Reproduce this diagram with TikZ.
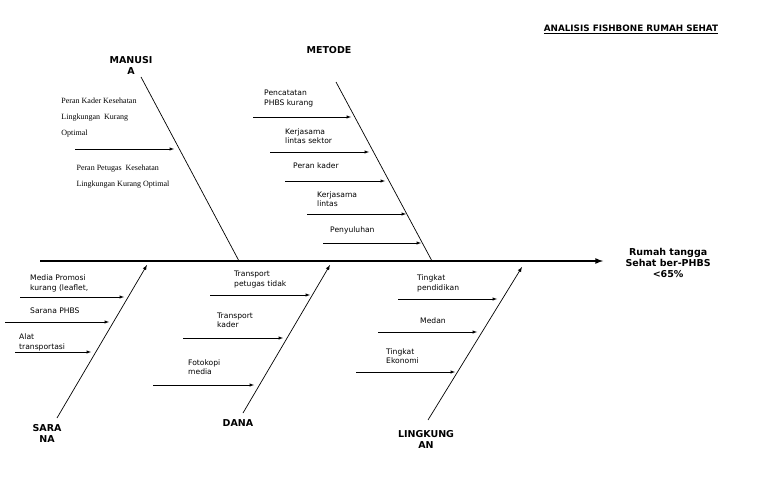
\documentclass[tikz,border=0pt]{standalone}
\usepackage{fontspec}
\setmainfont{DejaVu Sans}
\newfontfamily\tinyserif{Liberation Serif}
\usetikzlibrary{positioning}
\begin{document}
\begin{tikzpicture}[x=1pt,y=-1pt,>=latex,
  bone/.style={black,line width=0.7pt},
  sub/.style={->,black,line width=0.5pt},
  lbl/.style={font=\fontsize{7.6}{9.5}\selectfont,align=left,anchor=south west,inner sep=1pt},
  cat/.style={font=\bfseries\fontsize{9.5}{11}\selectfont,align=center}]
\useasboundingbox (0,0) rectangle (768,489);
\node[font=\bfseries\fontsize{8.8}{10}\selectfont] (title) at (631,29) {\underline{ANALISIS FISHBONE RUMAH SEHAT}};
% spine
\coordinate (tail) at (40,261);
\coordinate (head) at (603,261);
\draw[->,line width=1.6pt] (tail) -- (head);
\node[cat,anchor=west] (effect) at (622,263) {Rumah tangga\\Sehat ber-PHBS\\<65\%};
% categories
\node[cat] (manusia) at (131,65) {MANUSI\\A};
\node[cat] (metode) at (329,50) {METODE};
\node[cat] (sarana) at (47,433) {SARA\\NA};
\node[cat] (dana) at (238,423) {DANA};
\node[cat] (lingkungan) at (426,439) {LINGKUNG\\AN};
\coordinate (m0) at (141,77); \coordinate (m1) at (239,261);
\coordinate (t0) at (336,82); \coordinate (t1) at (432,261);
\coordinate (s0) at (57,418); \coordinate (s1) at (147,265);
\coordinate (d0) at (243,413); \coordinate (d1) at (330,265);
\coordinate (l0) at (428,420); \coordinate (l1) at (522,267);
\draw[bone] (m0) -- (m1);
\draw[bone] (t0) -- (t1);
\draw[bone,->] (s0) -- (s1);
\draw[bone,->] (d0) -- (d1);
\draw[bone,->] (l0) -- (l1);
% manusia
\node[font=\tinyserif\fontsize{8}{16}\selectfont,align=left] (man1) at (99,118) {Peran Kader Kesehatan\\Lingkungan\ \ Kurang\\Optimal};
\draw[sub] (75,149) -- (174,149);
\node[font=\tinyserif\fontsize{8}{16}\selectfont,align=left] (man2) at (123,177) {Peran Petugas\ \ Kesehatan\\Lingkungan Kurang Optimal};
% metode
\draw[sub] (253,117) -- (351,117);
\node[lbl] (met1) at (263,108) {Pencatatan\\PHBS kurang};
\draw[sub] (270,152) -- (369,152);
\node[lbl] (met2) at (284,145) {Kerjasama\\lintas sektor};
\draw[sub] (285,181) -- (385,181);
\node[lbl] (met3) at (292,170) {Peran kader};
\draw[sub] (307,214) -- (406,214);
\node[lbl] (met4) at (316,208) {Kerjasama\\lintas};
\draw[sub] (323,243) -- (421,243);
\node[lbl] (met5) at (329,235) {Penyuluhan};
% sarana
\draw[sub] (20,297) -- (124,297);
\node[lbl] (sar1) at (29,293) {Media Promosi\\kurang (leaflet,};
\draw[sub] (5,322) -- (109,322);
\node[lbl] (sar2) at (29,315) {Sarana PHBS};
\draw[sub] (15,352) -- (91,352);
\node[lbl] (sar3) at (18,352) {Alat\\transportasi};
% dana
\draw[sub] (210,295) -- (310,295);
\node[lbl] (dan1) at (233,289) {Transport\\petugas tidak};
\draw[sub] (183,338) -- (283,338);
\node[lbl] (dan2) at (216,329) {Transport\\kader};
\draw[sub] (153,385) -- (254,385);
\node[lbl] (dan3) at (187,376) {Fotokopi\\media};
% lingkungan
\draw[sub] (398,299) -- (497,299);
\node[lbl] (lin1) at (416,293) {Tingkat\\pendidikan};
\draw[sub] (378,332) -- (477,332);
\node[lbl] (lin2) at (419,325) {Medan};
\draw[sub] (356,372) -- (455,372);
\node[lbl] (lin3) at (385,365) {Tingkat\\Ekonomi};
\end{tikzpicture}
\end{document}
